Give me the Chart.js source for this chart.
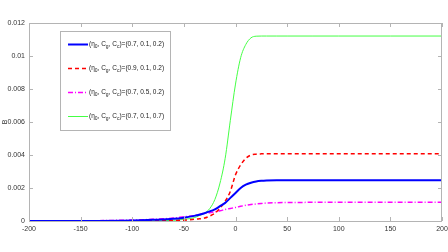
<!DOCTYPE html>
<html>
<head>
<meta charset="utf-8">
<script src="https://cdn.jsdelivr.net/npm/chart.js@4.4.1/dist/chart.umd.min.js"></script>
<style>
  html, body { margin: 0; padding: 0; background: #fff; }
  canvas { display: block; }
</style>
</head>
<body>
<canvas id="chart" width="448" height="252"></canvas>
<script>
// x positions (time) and B values
const xValues = [-200, -150, -100, -80, -60, -50, -40, -35, -30, -25, -20, -15, -10, -5, 0, 5, 10, 15, 20, 25, 30, 40, 50, 75, 100, 150, 200];
const blueB = [0, 0.000003, 0.00003, 0.00007, 0.00013, 0.0002, 0.00031, 0.00038, 0.00047, 0.00058, 0.0007, 0.0009, 0.0011, 0.0014, 0.0017, 0.002, 0.0022, 0.00232, 0.0024, 0.00244, 0.00246, 0.00247, 0.00247, 0.00247, 0.00247, 0.00247, 0.00247];
const redB = [0, 0, 0.00001, 0.00002, 0.00003, 0.00005, 0.0001, 0.00013, 0.00018, 0.0003, 0.00047, 0.00078, 0.0012, 0.0018, 0.0028, 0.0034, 0.0038, 0.004, 0.00405, 0.00407, 0.00408, 0.00408, 0.00408, 0.00408, 0.00408, 0.00408, 0.00408];
const magentaB = [0, 0.00001, 0.00006, 0.0001, 0.00018, 0.00026, 0.00033, 0.0004, 0.00046, 0.0005, 0.00056, 0.00062, 0.0007, 0.00076, 0.00082, 0.00089, 0.00095, 0.001, 0.00103, 0.00106, 0.00109, 0.00111, 0.00112, 0.00113, 0.00113, 0.00113, 0.00113];
const greenB = [0, 0, 0.000005, 0.00001, 0.00004, 0.0001, 0.0002, 0.00033, 0.00047, 0.00075, 0.0013, 0.0023, 0.0038, 0.0061, 0.0083, 0.0099, 0.0107, 0.0111, 0.0112, 0.01121, 0.01121, 0.01121, 0.01121, 0.01121, 0.01121, 0.01121, 0.01121];

const legendValues = ['(0.7, 0.1, 0.2)', '(0.9, 0.1, 0.2)', '(0.7, 0.5, 0.2)', '(0.7, 0.1, 0.7)'];
const xTicks = [-200, -150, -100, -50, 0, 50, 100, 150, 200];
const yTicks = [0, 0.002, 0.004, 0.006, 0.008, 0.01, 0.012];

const FONT = '"Liberation Sans", Arial, sans-serif';

const toPoints = (ys) => xValues.map((x, i) => ({ x: x, y: ys[i] }));

const series = [
    { data: blueB, color: '#0000ff', width: 2, dash: [] },
    { data: redB, color: '#ff0000', width: 1.5, dash: [4, 3] },
    { data: magentaB, color: '#ff00ff', width: 1.5, dash: [5, 2, 1, 2] },
    { data: greenB, color: '#44ff44', width: 1, dash: [] },
];

// box, inward ticks, y label and the legend with subscripts
const framePlugin = {
    id: 'frame',
    afterDraw(chart) {
        const ctx = chart.ctx;
        const a = chart.chartArea;
        const xs = chart.scales.x;
        const ys = chart.scales.y;
        ctx.save();
        ctx.strokeStyle = '#b4b4b4';
        ctx.lineWidth = 1;
        ctx.strokeRect(Math.round(a.left) + 0.5, Math.round(a.top) + 0.5,
            Math.round(a.right - a.left) - 1, Math.round(a.bottom - a.top));
        ctx.beginPath();
        xTicks.forEach((v) => {
            const px = Math.round(xs.getPixelForValue(v)) + 0.5;
            ctx.moveTo(px, a.bottom);
            ctx.lineTo(px, a.bottom - 4);
            ctx.moveTo(px, a.top);
            ctx.lineTo(px, a.top + 4);
        });
        yTicks.forEach((v) => {
            const py = Math.round(ys.getPixelForValue(v)) + 0.5;
            ctx.moveTo(a.left, py);
            ctx.lineTo(a.left + 4, py);
            ctx.moveTo(a.right, py);
            ctx.lineTo(a.right - 4, py);
        });
        ctx.stroke();

        // y axis label
        ctx.fillStyle = '#333';
        ctx.font = '7px ' + FONT;
        ctx.translate(5, 122);
        ctx.rotate(-Math.PI / 2);
        ctx.textAlign = 'center';
        ctx.textBaseline = 'middle';
        ctx.fillText('B', 0, 0);
        ctx.restore();

        // legend
        ctx.save();
        ctx.fillStyle = '#fff';
        ctx.fillRect(60, 31, 110, 99);
        ctx.strokeStyle = '#b4b4b4';
        ctx.lineWidth = 1;
        ctx.strokeRect(60.5, 31.5, 110, 99);
        const rows = [44, 68, 92, 116];
        series.forEach((s, i) => {
            const y = rows[i] + 0.5;
            ctx.strokeStyle = s.color;
            ctx.lineWidth = s.width;
            ctx.setLineDash(s.dash);
            ctx.beginPath();
            ctx.moveTo(68, y);
            ctx.lineTo(88, y);
            ctx.stroke();
            ctx.setLineDash([]);

            ctx.fillStyle = '#222';
            ctx.textBaseline = 'middle';
            ctx.textAlign = 'left';
            let x = 89;
            const parts = [
                ['(\u03b7', false], ['0', true], [', C', false], ['g', true],
                [', C', false], ['c', true], [')=' + legendValues[i], false],
            ];
            parts.forEach(([t, sub]) => {
                ctx.font = (sub ? '5px ' : '6.5px ') + FONT;
                ctx.fillText(t, x, sub ? y + 2 : y);
                x += ctx.measureText(t).width;
            });
        });
        ctx.restore();
    },
};

new Chart(document.getElementById('chart'), {
    type: 'line',
    data: {
        datasets: series.map((s) => ({
            data: toPoints(s.data),
            borderColor: s.color,
            borderWidth: s.width,
            borderDash: s.dash,
            pointRadius: 0,
            fill: false,
            cubicInterpolationMode: 'monotone',
        })),
    },
    options: {
        responsive: false,
        animation: false,
        layout: { padding: { top: 23, right: 6, left: 0, bottom: 0 } },
        plugins: {
            legend: { display: false },
            tooltip: { enabled: false },
        },
        scales: {
            x: {
                type: 'linear',
                min: -200,
                max: 200,
                grid: { display: false, drawTicks: false },
                border: { display: false },
                afterBuildTicks: (s) => { s.ticks = xTicks.map((v) => ({ value: v })); },
                afterFit: (s) => { s.height = 31; s.paddingLeft = 0; s.paddingRight = 0; },
                ticks: {
                    color: '#333',
                    font: { size: 7, family: FONT },
                    padding: 4,
                    maxRotation: 0,
                    callback: (v) => String(v),
                },
            },
            y: {
                min: 0,
                max: 0.012,
                grid: { display: false, drawTicks: false },
                border: { display: false },
                afterBuildTicks: (s) => { s.ticks = yTicks.map((v) => ({ value: v })); },
                afterFit: (s) => { s.width = 29; s.paddingTop = 0; s.paddingBottom = 0; },
                ticks: {
                    color: '#333',
                    font: { size: 7, family: FONT },
                    padding: 4,
                    callback: (v) => String(+v.toFixed(3)),
                },
            },
        },
    },
    plugins: [framePlugin],
});
</script>
</body>
</html>
